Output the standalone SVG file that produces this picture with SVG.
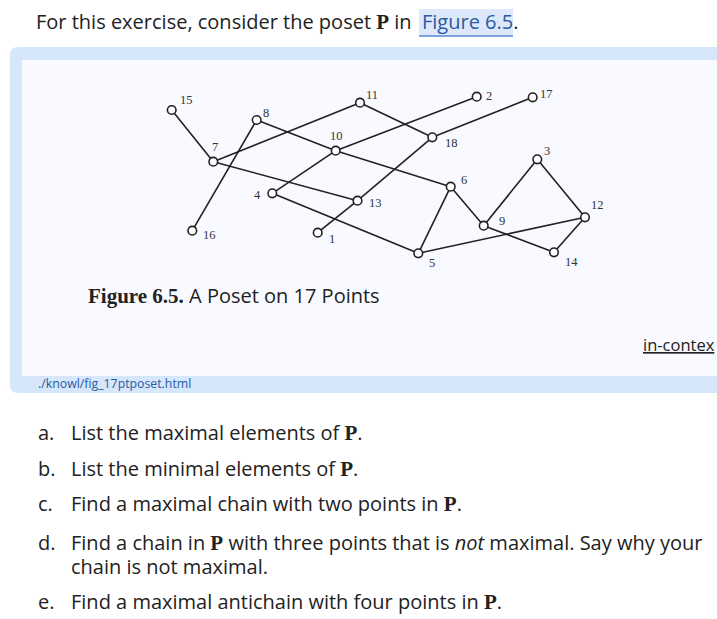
<svg xmlns="http://www.w3.org/2000/svg" width="717" height="619" viewBox="0 0 717 619">
<style>
.t{font-family:"Open Sans","Liberation Sans",sans-serif;font-size:20px;fill:#222}
.b{font-family:"Liberation Serif",serif;font-weight:bold;font-size:21px;fill:#222}
.lk{fill:#2a5aa0}
.lbl{font-family:"Liberation Serif",serif;font-size:12.5px;fill:#333}
.e{stroke:#222;stroke-width:1.6;fill:none}
.n circle{fill:#fff;stroke:#222;stroke-width:1.6}
</style>
<rect width="717" height="619" fill="#fff"/>
<rect x="419" y="9" width="94" height="27" fill="#dde9fb"/>
<line x1="419" y1="36" x2="513" y2="36" stroke="#7aa5e0" stroke-width="2"/>
<text class="t" x="36" y="29">For this exercise, consider the poset <tspan class="b">P</tspan> in</text>
<text class="t" x="422" y="29"><tspan class="lk">Figure 6.5</tspan>.</text>
<path d="M18,47 H717 V393 H18 Q10,393 10,385 V55 Q10,47 18,47 Z" fill="#d6e6fb"/>
<rect x="22" y="60" width="695" height="316" fill="#f8faff"/>
<text x="38" y="388" font-family="Open Sans,Liberation Sans,sans-serif" font-size="12.3" fill="#2a5aa0">./knowl/fig_17ptposet.html</text>
<text x="643" y="351" font-family="Open Sans,Liberation Sans,sans-serif" font-size="16.5" fill="#222" text-decoration="underline">in-contex</text>
<text x="88" y="303"><tspan class="b" font-size="22">Figure 6.5.</tspan><tspan class="t"> A Poset on 17 Points</tspan></text>
<g id="edges">
<line class="e" x1="171.7" y1="110" x2="213.3" y2="161.7"/>
<line class="e" x1="213.3" y1="161.7" x2="360" y2="102.7"/>
<line class="e" x1="213.3" y1="161.7" x2="357.5" y2="200.7"/>
<line class="e" x1="256.7" y1="120" x2="192.3" y2="230.7"/>
<line class="e" x1="256.7" y1="120" x2="335.7" y2="150.7"/>
<line class="e" x1="335.7" y1="150.7" x2="450.7" y2="186.7"/>
<line class="e" x1="335.7" y1="150.7" x2="476.7" y2="96.7"/>
<line class="e" x1="335.7" y1="150.7" x2="272.3" y2="193.3"/>
<line class="e" x1="272.3" y1="193.3" x2="418.3" y2="253.3"/>
<line class="e" x1="360" y1="102.7" x2="432.3" y2="137.3"/>
<line class="e" x1="432.3" y1="137.3" x2="532.7" y2="97.3"/>
<line class="e" x1="432.3" y1="137.3" x2="357.5" y2="200.7"/>
<line class="e" x1="357.5" y1="200.7" x2="317.7" y2="232.7"/>
<line class="e" x1="450.7" y1="186.7" x2="418.3" y2="253.3"/>
<line class="e" x1="450.7" y1="186.7" x2="483.7" y2="225.7"/>
<line class="e" x1="483.7" y1="225.7" x2="537.3" y2="159.3"/>
<line class="e" x1="537.3" y1="159.3" x2="585" y2="217.3"/>
<line class="e" x1="585" y1="217.3" x2="554" y2="252.3"/>
<line class="e" x1="483.7" y1="225.7" x2="554" y2="252.3"/>
<line class="e" x1="418.3" y1="253.3" x2="585" y2="217.3"/>
</g>
<g class="n" id="n15"><circle cx="171.7" cy="110" r="4.3"/><text class="lbl" x="180" y="104">15</text></g>
<g class="n" id="n8"><circle cx="256.7" cy="120" r="4.3"/><text class="lbl" x="263" y="117">8</text></g>
<g class="n" id="n7"><circle cx="213.3" cy="161.7" r="4.3"/><text class="lbl" x="212" y="151">7</text></g>
<g class="n" id="n10"><circle cx="335.7" cy="150.7" r="4.3"/><text class="lbl" x="330" y="140">10</text></g>
<g class="n" id="n4"><circle cx="272.3" cy="193.3" r="4.3"/><text class="lbl" x="254" y="199">4</text></g>
<g class="n" id="n16"><circle cx="192.3" cy="230.7" r="4.3"/><text class="lbl" x="203" y="239">16</text></g>
<g class="n" id="n1"><circle cx="317.7" cy="232.7" r="4.3"/><text class="lbl" x="329" y="243">1</text></g>
<g class="n" id="n13"><circle cx="357.5" cy="200.7" r="4.3"/><text class="lbl" x="369" y="207">13</text></g>
<g class="n" id="n11"><circle cx="360" cy="102.7" r="4.3"/><text class="lbl" x="366" y="99">11</text></g>
<g class="n" id="n2"><circle cx="476.7" cy="96.7" r="4.3"/><text class="lbl" x="486" y="100">2</text></g>
<g class="n" id="n17"><circle cx="532.7" cy="97.3" r="4.3"/><text class="lbl" x="540" y="98">17</text></g>
<g class="n" id="n18"><circle cx="432.3" cy="137.3" r="4.3"/><text class="lbl" x="445" y="147">18</text></g>
<g class="n" id="n6"><circle cx="450.7" cy="186.7" r="4.3"/><text class="lbl" x="461" y="184">6</text></g>
<g class="n" id="n3"><circle cx="537.3" cy="159.3" r="4.3"/><text class="lbl" x="544" y="155">3</text></g>
<g class="n" id="n9"><circle cx="483.7" cy="225.7" r="4.3"/><text class="lbl" x="499" y="225">9</text></g>
<g class="n" id="n12"><circle cx="585" cy="217.3" r="4.3"/><text class="lbl" x="591" y="209">12</text></g>
<g class="n" id="n5"><circle cx="418.3" cy="253.3" r="4.3"/><text class="lbl" x="429" y="267">5</text></g>
<g class="n" id="n14"><circle cx="554" cy="252.3" r="4.3"/><text class="lbl" x="565" y="266">14</text></g>
<g id="questions">
<text class="t" x="38" y="440">a.</text><text class="t" x="71" y="440">List the maximal elements of <tspan class="b">P</tspan>.</text>
<text class="t" x="38" y="476">b.</text><text class="t" x="71" y="476">List the minimal elements of <tspan class="b">P</tspan>.</text>
<text class="t" x="38" y="511">c.</text><text class="t" x="71" y="511">Find a maximal chain with two points in <tspan class="b">P</tspan>.</text>
<text class="t" x="38" y="550">d.</text><text class="t" x="71" y="550">Find a chain in <tspan class="b">P</tspan> with three points that is <tspan font-style="italic">not</tspan> maximal. Say why your</text>
<text class="t" x="71" y="574">chain is not maximal.</text>
<text class="t" x="38" y="609">e.</text><text class="t" x="71" y="609">Find a maximal antichain with four points in <tspan class="b">P</tspan>.</text>
</g>
</svg>
